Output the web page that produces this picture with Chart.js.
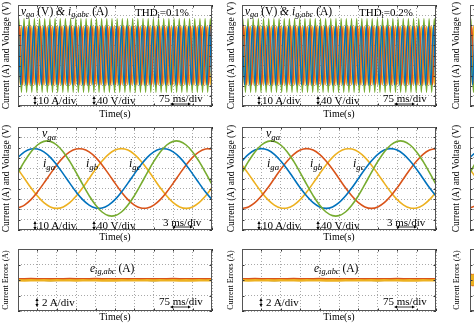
<!DOCTYPE html>
<html><head><meta charset="utf-8">
<script src="https://cdn.jsdelivr.net/npm/chart.js@4.4.1/dist/chart.umd.min.js"></script>
<style>
html,body{margin:0;padding:0;background:#fff;overflow:hidden}
#fig{position:relative;width:474px;height:323px;overflow:hidden;background:#fff;font-family:"Liberation Serif","Times New Roman",serif;color:#000}
#fig canvas{position:absolute}
.n{position:absolute;white-space:nowrap;line-height:1;font-size:11px}
.n sub{font-size:0.72em;vertical-align:-0.3em;line-height:0;font-style:italic}
.n sub.u{font-style:normal}
.n i{font-style:italic}
svg.ar{position:absolute;overflow:visible}
</style></head><body><div id="fig"></div>
<script>
// ---------------- DATA ----------------
// top row (75 ms/div, 750 ms window), samples every 1/6 cycle
const TOP_STEP_MS = 10/3;
const blueTop = [
29,14.5,-14.5,-29,-14.5,14.5, 29,14.5,-14.5,-29,-14.5,14.5, 29,14.5,-14.5,-29,-14.5,14.5,
29,14.5,-14.5,-29,-14.5,14.5, 29,14.5,-14.5,-29,-14.5,14.5, 29,14.5,-14.5,-29,-14.5,14.5,
29,14.5,-14.5,-29,-14.5,14.5, 29,14.5,-14.5,-29,-14.5,14.5, 29,14.5,-14.5,-29,-14.5,14.5,
29,14.5,-14.5,-29,-14.5,14.5, 29,14.5,-14.5,-29,-14.5,14.5, 29,14.5,-14.5,-29,-14.5,14.5,
29,14.5,-14.5,-29,-14.5,14.5, 29,14.5,-14.5,-29,-14.5,14.5, 29,14.5,-14.5,-29,-14.5,14.5,
29,14.5,-14.5,-29,-14.5,14.5, 29,14.5,-14.5,-29,-14.5,14.5, 29,14.5,-14.5,-29,-14.5,14.5,
29,14.5,-14.5,-29,-14.5,14.5, 29,14.5,-14.5,-29,-14.5,14.5, 29,14.5,-14.5,-29,-14.5,14.5,
29,14.5,-14.5,-29,-14.5,14.5, 29,14.5,-14.5,-29,-14.5,14.5, 29,14.5,-14.5,-29,-14.5,14.5,
29,14.5,-14.5,-29,-14.5,14.5, 29,14.5,-14.5,-29,-14.5,14.5, 29,14.5,-14.5,-29,-14.5,14.5,
29,14.5,-14.5,-29,-14.5,14.5, 29,14.5,-14.5,-29,-14.5,14.5, 29,14.5,-14.5,-29,-14.5,14.5,
29,14.5,-14.5,-29,-14.5,14.5, 29,14.5,-14.5,-29,-14.5,14.5, 29,14.5,-14.5,-29,-14.5,14.5,
29,14.5,-14.5,-29,-14.5,14.5, 29,14.5,-14.5,-29,-14.5,14.5, 29,14.5,-14.5,-29,-14.5,14.5,
29,14.5,-14.5,-29,-14.5,14.5,
29,14.5,-14.5,-29];
const orangeTop = [
-14.5,14.5,29,14.5,-14.5,-29, -14.5,14.5,29,14.5,-14.5,-29, -14.5,14.5,29,14.5,-14.5,-29,
-14.5,14.5,29,14.5,-14.5,-29, -14.5,14.5,29,14.5,-14.5,-29, -14.5,14.5,29,14.5,-14.5,-29,
-14.5,14.5,29,14.5,-14.5,-29, -14.5,14.5,29,14.5,-14.5,-29, -14.5,14.5,29,14.5,-14.5,-29,
-14.5,14.5,29,14.5,-14.5,-29, -14.5,14.5,29,14.5,-14.5,-29, -14.5,14.5,29,14.5,-14.5,-29,
-14.5,14.5,29,14.5,-14.5,-29, -14.5,14.5,29,14.5,-14.5,-29, -14.5,14.5,29,14.5,-14.5,-29,
-14.5,14.5,29,14.5,-14.5,-29, -14.5,14.5,29,14.5,-14.5,-29, -14.5,14.5,29,14.5,-14.5,-29,
-14.5,14.5,29,14.5,-14.5,-29, -14.5,14.5,29,14.5,-14.5,-29, -14.5,14.5,29,14.5,-14.5,-29,
-14.5,14.5,29,14.5,-14.5,-29, -14.5,14.5,29,14.5,-14.5,-29, -14.5,14.5,29,14.5,-14.5,-29,
-14.5,14.5,29,14.5,-14.5,-29, -14.5,14.5,29,14.5,-14.5,-29, -14.5,14.5,29,14.5,-14.5,-29,
-14.5,14.5,29,14.5,-14.5,-29, -14.5,14.5,29,14.5,-14.5,-29, -14.5,14.5,29,14.5,-14.5,-29,
-14.5,14.5,29,14.5,-14.5,-29, -14.5,14.5,29,14.5,-14.5,-29, -14.5,14.5,29,14.5,-14.5,-29,
-14.5,14.5,29,14.5,-14.5,-29, -14.5,14.5,29,14.5,-14.5,-29, -14.5,14.5,29,14.5,-14.5,-29,
-14.5,14.5,29,14.5,-14.5,-29,
-14.5,14.5,29,14.5];
const yellowTop = [
-14.5,-29,-14.5,14.5,29,14.5, -14.5,-29,-14.5,14.5,29,14.5, -14.5,-29,-14.5,14.5,29,14.5,
-14.5,-29,-14.5,14.5,29,14.5, -14.5,-29,-14.5,14.5,29,14.5, -14.5,-29,-14.5,14.5,29,14.5,
-14.5,-29,-14.5,14.5,29,14.5, -14.5,-29,-14.5,14.5,29,14.5, -14.5,-29,-14.5,14.5,29,14.5,
-14.5,-29,-14.5,14.5,29,14.5, -14.5,-29,-14.5,14.5,29,14.5, -14.5,-29,-14.5,14.5,29,14.5,
-14.5,-29,-14.5,14.5,29,14.5, -14.5,-29,-14.5,14.5,29,14.5, -14.5,-29,-14.5,14.5,29,14.5,
-14.5,-29,-14.5,14.5,29,14.5, -14.5,-29,-14.5,14.5,29,14.5, -14.5,-29,-14.5,14.5,29,14.5,
-14.5,-29,-14.5,14.5,29,14.5, -14.5,-29,-14.5,14.5,29,14.5, -14.5,-29,-14.5,14.5,29,14.5,
-14.5,-29,-14.5,14.5,29,14.5, -14.5,-29,-14.5,14.5,29,14.5, -14.5,-29,-14.5,14.5,29,14.5,
-14.5,-29,-14.5,14.5,29,14.5, -14.5,-29,-14.5,14.5,29,14.5, -14.5,-29,-14.5,14.5,29,14.5,
-14.5,-29,-14.5,14.5,29,14.5, -14.5,-29,-14.5,14.5,29,14.5, -14.5,-29,-14.5,14.5,29,14.5,
-14.5,-29,-14.5,14.5,29,14.5, -14.5,-29,-14.5,14.5,29,14.5, -14.5,-29,-14.5,14.5,29,14.5,
-14.5,-29,-14.5,14.5,29,14.5, -14.5,-29,-14.5,14.5,29,14.5, -14.5,-29,-14.5,14.5,29,14.5,
-14.5,-29,-14.5,14.5,29,14.5,
-14.5,-29,-14.5,14.5];
const greenTop = [
73,146,73,-73,-146,-73, 73,146,73,-73,-146,-73, 73,146,73,-73,-146,-73,
73,146,73,-73,-146,-73, 73,146,73,-73,-146,-73, 73,146,73,-73,-146,-73,
73,146,73,-73,-146,-73, 73,146,73,-73,-146,-73, 73,146,73,-73,-146,-73,
73,146,73,-73,-146,-73, 73,146,73,-73,-146,-73, 73,146,73,-73,-146,-73,
73,146,73,-73,-146,-73, 73,146,73,-73,-146,-73, 73,146,73,-73,-146,-73,
73,146,73,-73,-146,-73, 73,146,73,-73,-146,-73, 73,146,73,-73,-146,-73,
73,146,73,-73,-146,-73, 73,146,73,-73,-146,-73, 73,146,73,-73,-146,-73,
73,146,73,-73,-146,-73, 73,146,73,-73,-146,-73, 73,146,73,-73,-146,-73,
73,146,73,-73,-146,-73, 73,146,73,-73,-146,-73, 73,146,73,-73,-146,-73,
73,146,73,-73,-146,-73, 73,146,73,-73,-146,-73, 73,146,73,-73,-146,-73,
73,146,73,-73,-146,-73, 73,146,73,-73,-146,-73, 73,146,73,-73,-146,-73,
73,146,73,-73,-146,-73, 73,146,73,-73,-146,-73, 73,146,73,-73,-146,-73,
73,146,73,-73,-146,-73,
73,146,73,-73];

// middle row (3 ms/div, 30 ms window), ms
const midTime = [0,1,2,3,4,5,6,7,8,9,10,11,12,13,14,15,16,17,18,19,20,21,22,23,24,25,26,27,28,29,30];
const vgaMid1 = [22.8,66.3,103.2,130.1,144.2,144.2,130.1,103.2,66.3,22.8,-22.8,-66.3,-103.2,-130.1,-144.2,-144.2,-130.1,-103.2,-66.3,-22.8,22.8,66.3,103.2,130.1,144.2,144.2,130.1,103.2,66.3,22.8,-22.8];
const igaMid1 = [20.5,25.8,28.6,28.6,25.8,20.5,13.2,4.5,-4.5,-13.2,-20.5,-25.8,-28.6,-28.6,-25.8,-20.5,-13.2,-4.5,4.5,13.2,20.5,25.8,28.6,28.6,25.8,20.5,13.2,4.5,-4.5,-13.2,-20.5];
const igbMid1 = [-28.6,-25.8,-20.5,-13.2,-4.5,4.5,13.2,20.5,25.8,28.6,28.6,25.8,20.5,13.2,4.5,-4.5,-13.2,-20.5,-25.8,-28.6,-28.6,-25.8,-20.5,-13.2,-4.5,4.5,13.2,20.5,25.8,28.6,28.6];
const igcMid1 = [9,0,-9,-17,-23.5,-27.6,-29,-27.6,-23.5,-17,-9,0,9,17,23.5,27.6,29,27.6,23.5,17,9,0,-9,-17,-23.5,-27.6,-29,-27.6,-23.5,-17,-9];
const vgaMid2 = vgaMid1;
const igaMid2 = [17,23.5,27.6,29,27.6,23.5,17,9,0,-9,-17,-23.5,-27.6,-29,-27.6,-23.5,-17,-9,0,9,17,23.5,27.6,29,27.6,23.5,17,9,0,-9,-17];
const igbMid2 = [-29,-27.6,-23.5,-17,-9,0,9,17,23.5,27.6,29,27.6,23.5,17,9,0,-9,-17,-23.5,-27.6,-29,-27.6,-23.5,-17,-9,0,9,17,23.5,27.6,29];
const igcMid2 = [13.2,4.5,-4.5,-13.2,-20.5,-25.8,-28.6,-28.6,-25.8,-20.5,-13.2,-4.5,4.5,13.2,20.5,25.8,28.6,28.6,25.8,20.5,13.2,4.5,-4.5,-13.2,-20.5,-25.8,-28.6,-28.6,-25.8,-20.5,-13.2];

// bottom row (current errors, 750 ms window)
const errTime = [0,25,50,75,100,125,150,175,200,225,250,275,300,325,350,375,400,425,450,475,500,525,550,575,600,625,650,675,700,725,750];
const errA = [0.01,-0.01,0.02,-0.01,0.01,-0.02,0.01,0,0.01,-0.01,0.01,-0.01,0.02,-0.01,0,-0.01,0.01,-0.01,0.01,0,0.01,-0.02,0.01,0,0.01,-0.01,0.01,-0.01,0.01,-0.01,0.01];
const errB = [0.13,0.11,0.14,0.12,0.13,0.11,0.13,0.12,0.14,0.11,0.13,0.12,0.14,0.11,0.12,0.11,0.13,0.12,0.13,0.12,0.13,0.11,0.13,0.12,0.14,0.11,0.12,0.11,0.13,0.12,0.13];
const errC = [-0.04,-0.06,-0.03,-0.05,-0.04,-0.06,-0.03,-0.05,-0.04,-0.06,-0.04,-0.05,-0.03,-0.06,-0.04,-0.06,-0.04,-0.05,-0.03,-0.05,-0.04,-0.06,-0.04,-0.05,-0.03,-0.06,-0.04,-0.06,-0.04,-0.05,-0.04];
const errTime3 = [0,3,6,9,12,15,18,21,24,27,30,750];
const errA3 = [0.5,-0.5,0.5,-0.5,0.5,-0.5,0.4,-0.4,0.3,-0.2,0.1,0];
const errB3 = [0.7,-0.7,0.7,-0.7,0.7,-0.7,0.7,-0.6,0.5,-0.4,0.2,0];
const errC3 = [-0.6,0.6,-0.6,0.6,-0.6,0.6,-0.5,0.5,-0.4,0.3,-0.1,0];
const thdLabels = ['0.1%','0.2%','0.1%'];

// ---------------- STYLE / LAYOUT ----------------
const C_BLUE='#0072BD', C_ORANGE='#D95319', C_YELLOW='#EDB120', C_GREEN='#77AC30';
const SERIF='"Liberation Serif","Times New Roman",serif';
const GRID='#a9a9a9';
const fig=document.getElementById('fig');
const topTime = blueTop.map((_, i) => +(i*TOP_STEP_MS).toFixed(4));

const rows=[
 {y:0,h:122,bt:5,bb:106,tc:114.5},
 {y:122,h:121,bt:127,bb:230,tc:237.5},
 {y:243,h:80,bt:249,bb:311,tc:317.5}
];
const cols=[
 {x:0,w:216,bl:18,br:212,yc:6},
 {x:222,w:218,bl:242,br:436,yc:231},
 {x:450,w:218,bl:470,br:664,yc:456.5}
];

const boxPlugin={id:'box',afterDraw(chart){
  const {ctx,chartArea:a,scales}=chart; ctx.save(); ctx.setLineDash([]);
  ctx.strokeStyle='#333'; ctx.lineWidth=1;
  const tl=2.5; ctx.beginPath();
  scales.x.ticks.forEach((t,i)=>{const p=Math.round(scales.x.getPixelForTick(i))+0.5;
    ctx.moveTo(p,a.top);ctx.lineTo(p,a.top+tl);ctx.moveTo(p,a.bottom);ctx.lineTo(p,a.bottom-tl);});
  scales.y.ticks.forEach((t,i)=>{const p=Math.round(scales.y.getPixelForTick(i))+0.5;
    ctx.moveTo(a.left,p);ctx.lineTo(a.left+tl,p);ctx.moveTo(a.right,p);ctx.lineTo(a.right-tl,p);});
  ctx.stroke();
  ctx.strokeStyle='#555';
  ctx.strokeRect(Math.round(a.left)+0.5,Math.round(a.top)+0.5,Math.round(a.right-a.left)-1,Math.round(a.bottom-a.top)-1);
  ctx.restore();
}};

function ds(data,color,lw,axis,tension){return {data,borderColor:color,borderWidth:lw,yAxisID:axis||'y',pointRadius:0,fill:false,tension:tension===undefined?0.4:tension};}

function panel(ri,ci,opt){
  const r=rows[ri], c=cols[ci];
  const cv=document.createElement('canvas'); cv.width=c.w; cv.height=r.h;
  cv.style.left=c.x+'px'; cv.style.top=r.y+'px'; fig.appendChild(cv);
  const pT=r.tc-r.bb-5;
  const ys=opt.ysize;
  const yTop=c.yc-c.x-ys/2, yBot=(c.bl-c.x)-ys-yTop;
  const gridCfg={color:GRID,lineWidth:1,drawTicks:false};
  new Chart(cv,{type:'line',data:{labels:opt.labels,datasets:opt.datasets},
   options:{responsive:false,animation:false,devicePixelRatio:1,
    layout:{autoPadding:false,padding:{left:0,top:r.bt-r.y,right:c.x+c.w-c.br,bottom:(r.y+r.h)-(r.bb+pT+10)}},
    plugins:{legend:{display:false},tooltip:{enabled:false}},
    scales:{
     x:{type:'linear',min:opt.xmin,max:opt.xmax,ticks:{display:false,stepSize:opt.xstep},grid:gridCfg,
        border:{display:false,dash:[1,2]},
        title:{display:true,text:'Time(s)',color:'#000',font:{family:SERIF,size:10,lineHeight:1},padding:{top:pT,bottom:0}}},
     y:{type:'linear',position:'left',min:opt.ymin,max:opt.ymax,ticks:{display:false,stepSize:opt.ystep},grid:gridCfg,
        border:{display:false,dash:[1,2]},
        title:{display:true,text:opt.ytitle,color:'#000',font:{family:SERIF,size:ys,lineHeight:1},padding:{top:yTop,bottom:yBot}}},
     yv:{type:'linear',display:false,min:-200,max:200}
    }},plugins:[boxPlugin]});
}

const VI_TITLE='Current (A) and Voltage (V)';
const midSets=[[vgaMid1,igaMid1,igbMid1,igcMid1],[vgaMid2,igaMid2,igbMid2,igcMid2],[vgaMid1,igaMid1,igbMid1,igcMid1]];
for(let ci=0;ci<3;ci++){
  // first dataset is drawn on top: currents over the voltage in the dense view
  panel(0,ci,{labels:topTime,xmin:0,xmax:750,xstep:75,ymin:-50,ymax:50,ystep:10,ytitle:VI_TITLE,ysize:9.5,
    datasets:[ds(blueTop,C_BLUE,1.2),ds(orangeTop,C_ORANGE,1.2),ds(yellowTop,C_YELLOW,1.2),ds(greenTop,C_GREEN,1.2,'yv')]});
  const m=midSets[ci];
  panel(1,ci,{labels:midTime,xmin:0,xmax:30,xstep:3,ymin:-50,ymax:50,ystep:10,ytitle:VI_TITLE,ysize:9.5,
    datasets:[ds(m[0],C_GREEN,1.6,'yv'),ds(m[1],C_BLUE,1.6),ds(m[2],C_ORANGE,1.6),ds(m[3],C_YELLOW,1.6)]});
  const e = ci<2 ? [errTime,errC,errB,errA] : [errTime3,errC3,errB3,errA3];
  const tn = ci<2 ? 0 : 0.4;
  panel(2,ci,{labels:e[0],xmin:0,xmax:750,xstep:75,ymin:-4,ymax:4,ystep:2,ytitle:'Current Errors (A)',ysize:8,
    datasets:[ds(e[1],C_YELLOW,2.4,'y',tn),ds(e[2],C_ORANGE,2.2,'y',tn),ds(e[3],C_BLUE,2,'y',tn)]});
}

// ---------------- ANNOTATIONS ----------------
function note(x,cy,html,size){const d=document.createElement('div');d.className='n';d.style.left=x+'px';
  d.style.fontSize=size+'px';d.style.top=(cy-size*0.5)+'px';d.innerHTML=html;fig.appendChild(d);}
function harrow(x1,x2,y){const s=document.createElementNS('http://www.w3.org/2000/svg','svg');s.setAttribute('class','ar');
  s.setAttribute('width',x2-x1);s.setAttribute('height',4);s.style.left=x1+'px';s.style.top=(y-2)+'px';
  const w=x2-x1;s.innerHTML=`<line x1="2" y1="2" x2="${w-2}" y2="2" stroke="#000" stroke-width="0.8"/><path d="M0 2 L3 0.6 L3 3.4Z M${w} 2 L${w-3} 0.6 L${w-3} 3.4Z" fill="#000"/>`;
  fig.appendChild(s);}
function varrow(x,cy){const s=document.createElementNS('http://www.w3.org/2000/svg','svg');s.setAttribute('class','ar');
  s.setAttribute('width',4);s.setAttribute('height',9);s.style.left=(x-2)+'px';s.style.top=(cy-4.5)+'px';
  s.innerHTML='<line x1="2" y1="2" x2="2" y2="7" stroke="#000" stroke-width="0.8"/><path d="M2 0 L0.4 3 L3.6 3Z M2 9 L0.4 6 L3.6 6Z" fill="#000"/>';
  fig.appendChild(s);}
const offs=[0,224,452];
offs.forEach((dx,ci)=>{
  note(21+dx,12,'<i>v</i><sub>ga</sub> (V) <i>&amp;</i> <i>i</i><sub>g,abc</sub> (A)',11.5);
  note(135+dx,12.5,'THD<sub class="u">i</sub>='+thdLabels[ci],11);
  varrow(35+dx,100); note(38+dx,100,'10 A/div',11);
  varrow(94+dx,100); note(97+dx,100,'40 V/div',11);
  note(159+dx,98.5,'75 ms/div',11); harrow(170+dx,191+dx,103.5);
  note(42+dx,133,'<i>v</i><sub>ga</sub>',12);
  note(43+dx,163,'<i>i</i><sub>ga</sub>',12);
  note(86+dx,163,'<i>i</i><sub>gb</sub>',12);
  note(129+dx,163,'<i>i</i><sub>gc</sub>',12);
  varrow(35+dx,225); note(38+dx,225,'10 A/div',11);
  varrow(94+dx,225); note(97+dx,225,'40 V/div',11);
  note(163+dx,222,'3 ms/div',11); harrow(172+dx,193+dx,227);
  note(90+dx,269,'<i>e</i><sub>ig,abc</sub> (A)',11.5);
  varrow(37+dx,302); note(42+dx,302,'2 A/div',11);
  note(159+dx,301,'75 ms/div',11); harrow(170+dx,191+dx,307);
});
</script></body></html>
